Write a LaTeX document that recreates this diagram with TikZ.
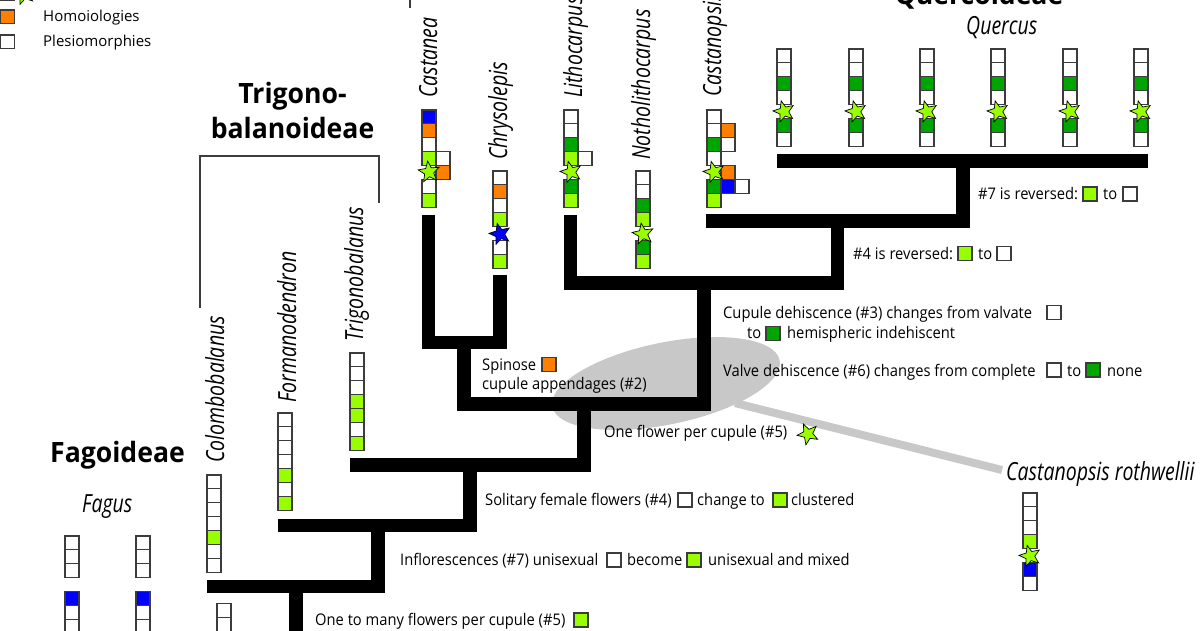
\documentclass[tikz,border=0pt]{standalone}
\usepackage{fontspec}
\setmainfont[FakeStretch=0.92]{Open Sans}
\newfontfamily\legf{Open Sans}
\newfontfamily\labf[FakeStretch=0.78]{Open Sans}
\newfontfamily\titf[FakeStretch=0.95]{Open Sans}
\usetikzlibrary{shapes.geometric}
\definecolor{lg}{RGB}{153,255,0}
\definecolor{dg}{RGB}{0,166,0}
\definecolor{bl}{RGB}{0,0,255}
\definecolor{og}{RGB}{255,128,0}
\definecolor{ed}{RGB}{60,60,60}
\definecolor{gr}{RGB}{200,200,200}
\newcommand\taxcol[3]{\foreach \i/\c in {#3}{\draw[cbox,fill=\c] (#1,{#2+\i*13.9}) rectangle ++(14,13.9);}}
\begin{document}
\begin{tikzpicture}[x=1pt,y=-1pt,
 cbox/.style={draw=ed,line width=1.1pt},
 br/.style={line width=13.6pt,line join=miter,line cap=butt,draw=black},
 starm/.style={star,star points=5,star point ratio=2.3,minimum size=22pt,inner sep=0pt,draw=black,line width=0.7pt,fill=lg,rotate=15},
 ann/.style={anchor=base west,inner sep=0pt,font=\fontsize{16}{19}\selectfont},
 leg/.style={anchor=base west,inner sep=0pt,font=\legf\fontsize{15}{18}\selectfont},
 vlab/.style={anchor=base west,inner sep=0pt,rotate=90,font=\labf\itshape\fontsize{25}{28}\selectfont},
 hlab/.style={anchor=base west,inner sep=0pt,font=\labf\itshape\fontsize{25}{28}\selectfont},
 ttl/.style={inner sep=0pt,font=\titf\bfseries\fontsize{28}{32}\selectfont},
 brk/.style={draw=ed,line width=1.3pt},
 gl/.style={draw=gr,line width=8pt}]
\useasboundingbox (0,0) rectangle (1200,630);
\clip (0,0) rectangle (1200,630);
\fill[white] (0,0) rectangle (1200,630);

% legend (partly cut)
\draw[cbox,fill=white] (0,-14) rectangle (14.5,0.5);
\node[starm] (legstar) at (24,-6) {};
\draw[cbox,fill=og] (0,10) rectangle (14.5,23.5);
\node[leg] (lh) at (43,21.5) {Homoiologies};
\draw[cbox,fill=white] (0,35) rectangle (14.5,48.5);
\node[leg] (lp) at (43,46.5) {Plesiomorphies};

% grey highlight
\node[ellipse,fill=gr,minimum width=232pt,minimum height=82pt,inner sep=0pt,rotate=11.6] (ell) at (666,383.5) {};
\coordinate (rothtip) at (1002,470);
\draw[gl] (735,403) -- (rothtip);

% bracket
\draw[brk] (200,308) -- (200,156) -- (379,156) -- (379,203);
\draw[brk] (410,-5) -- (410,8);

% tree branches
\draw[br] (777,161) -- (1148,161);
\draw[br] (706,221) -- (963,221) -- (963,161);
\draw[br] (570.5,215) -- (570.5,283) -- (837.5,283) -- (837.5,221);
\draw[br] (428.5,215) -- (428.5,342.5) -- (500,342.5) -- (500,275);
\draw[br] (464,342.5) -- (464,404) -- (704,404) -- (704,283);
\draw[br] (350,465) -- (584,465) -- (584,404);
\draw[br] (278,525.5) -- (470,525.5) -- (470,465);
\draw[br] (207,586.5) -- (378,586.5) -- (378,525.5);
\draw[br] (296,586.5) -- (296,640);

% titles
\node[ttl,anchor=base] (t1) at (292.5,103) {Trigono-};
\node[ttl,anchor=base] (t2) at (292.5,138) {balanoideae};
\node[ttl,anchor=base west] (t3) at (50,462) {Fagoideae};
\node[ttl,anchor=base] (t4) at (979,4) {Quercoideae};

% taxon labels
\node[vlab] (nColo) at (224,463) {Colombobalanus};
\node[vlab] (nForm) at (296,403) {Formanodendron};
\node[vlab] (nTrig) at (363,342) {Trigonobalanus};
\node[vlab] (nCast) at (437,98) {Castanea};
\node[vlab] (nChry) at (507,160) {Chrysolepis};
\node[vlab] (nLith) at (582,98) {Lithocarpus};
\node[vlab] (nNoth) at (650,160) {Notholithocarpus};
\node[vlab] (nCsp) at (721,97) {Castanopsis};
\node[hlab] (nFag) at (82,512) {Fagus};
\node[hlab] (nQue) at (966,34) {Quercus};
\node[hlab] (nRot) at (1006,480) {Castanopsis rothwellii};

% character columns
\taxcol{65}{536}{0/white,1/white,2/white,4/bl,5/white,6/white}
\taxcol{136}{536}{0/white,1/white,2/white,4/bl,5/white,6/white}
\taxcol{217}{603.5}{0/white,1/white,2/white}
\taxcol{207}{475}{0/white,1/white,2/white,3/white,4/lg,5/white,6/white}
\taxcol{278}{413}{0/white,1/white,2/white,3/white,4/lg,5/white,6/lg}
\taxcol{350}{353}{0/white,1/white,2/white,3/lg,4/lg,5/white,6/lg}
\taxcol{422}{110}{0/bl,1/og,2/white,3/lg,5/white,6/lg}
\taxcol{436}{110}{3/white,4/og}
\node[starm,rotate=-8] (sCast) at (429,172) {};
\taxcol{493}{171}{0/white,1/og,2/white,3/lg,5/white,6/lg}
\node[starm,fill=bl] (sChry) at (500,234) {};
\taxcol{564}{110}{0/white,1/white,2/dg,3/lg,5/dg,6/lg}
\taxcol{578}{110}{3/white}
\node[starm] (sLith) at (571,172) {};
\taxcol{636}{171}{0/white,1/white,2/dg,3/lg,5/dg,6/lg}
\node[starm,rotate=-5] (sNoth) at (643,234) {};
\taxcol{707}{110}{0/white,1/white,2/dg,3/white,5/dg,6/lg}
\taxcol{721}{110}{1/og,2/white,4/og,5/bl}
\taxcol{735}{110}{5/white}
\node[starm] (sCsp) at (714,172) {};
\foreach \qx in {777,849,920,991,1063,1134}{
  \taxcol{\qx}{49}{0/white,1/white,2/dg,3/white,5/dg,6/white}
  \node[starm] (sq\qx) at ({\qx+7},111.5) {};
}
\taxcol{1023}{493}{0/white,1/white,2/white,3/lg,5/bl,6/white}
\node[starm] (sRot) at (1030,556) {};

% annotations
\node[ann] (a1) at (978,199) {\#7 is reversed:};
\draw[cbox,fill=lg] (1083,187) rectangle ++(14,14);
\node[ann] (a1b) at (1103,199) {to};
\draw[cbox,fill=white] (1123,187) rectangle ++(14,14);

\node[ann] (a2) at (853,259) {\#4 is reversed:};
\draw[cbox,fill=lg] (958,246.5) rectangle ++(14,14);
\node[ann] (a2b) at (978,259) {to};
\draw[cbox,fill=white] (997,246.5) rectangle ++(14,14);

\node[ann] (a3) at (723,318) {Cupule dehiscence (\#3) changes from valvate};
\draw[cbox,fill=white] (1047,305.5) rectangle ++(14,14);
\node[ann] (a3b) at (747,338) {to};
\draw[cbox,fill=dg] (766,326.5) rectangle ++(14,14);
\node[ann] (a3c) at (787,338) {hemispheric indehiscent};

\node[ann] (a4) at (723,376) {Valve dehiscence (\#6) changes from complete};
\draw[cbox,fill=white] (1047,363) rectangle ++(14,14);
\node[ann] (a4b) at (1067,376) {to};
\draw[cbox,fill=dg] (1086,363) rectangle ++(14,14);
\node[ann] (a4c) at (1107,376) {none};

\node[ann] (a5) at (482,370) {Spinose};
\draw[cbox,fill=og] (542,357.5) rectangle ++(14,14);
\node[ann] (a5b) at (482,389.5) {cupule appendages (\#2)};

\node[ann] (a6) at (604,437.5) {One flower per cupule (\#5)};
\node[starm,rotate=10] (s6) at (808,434) {};

\node[ann] (a7) at (485,505) {Solitary female flowers (\#4)};
\draw[cbox,fill=white] (678,493) rectangle ++(14,14);
\node[ann] (a7b) at (697,505) {change to};
\draw[cbox,fill=lg] (773,493) rectangle ++(14,14);
\node[ann] (a7c) at (791,505) {clustered};

\node[ann] (a8) at (400,565) {Inflorescences (\#7) unisexual};
\draw[cbox,fill=white] (607,553) rectangle ++(14,14);
\node[ann] (a8b) at (627,565) {become};
\draw[cbox,fill=lg] (687,553) rectangle ++(14,14);
\node[ann] (a8c) at (708,565) {unisexual and mixed};

\node[ann] (a9) at (315,625) {One to many flowers per cupule (\#5)};
\draw[cbox,fill=lg] (574,613) rectangle ++(14,14);
\end{tikzpicture}
\end{document}
